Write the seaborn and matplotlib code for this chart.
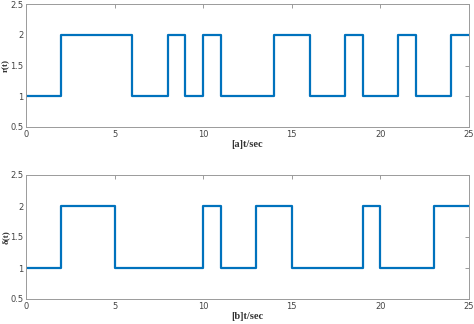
import numpy as np
import pandas as pd
import seaborn as sns
import matplotlib
matplotlib.use("Agg")
import matplotlib.pyplot as plt

# Switching times and values (piecewise-constant signals)
t_a = [0, 2, 6, 8, 9, 10, 11, 14, 16, 18, 19, 21, 22, 24, 25]
r_a = [1, 2, 1, 2, 1, 2, 1, 2, 1, 2, 1, 2, 1, 2, 2]
t_b = [0, 2, 5, 10, 11, 13, 15, 19, 20, 23, 25]
d_b = [1, 2, 1, 2, 1, 2, 1, 2, 1, 2, 2]
x_ticks = [0, 5, 10, 15, 20, 25]
y_ticks = [0.5, 1, 1.5, 2, 2.5]

sns.set_style("white")
plt.rcParams['font.family'] = ['DejaVu Sans']

fig = plt.figure(figsize=(4.74, 3.24), dpi=100)
ax1 = fig.add_axes([26/474, 1 - 127/324, (469-26)/474, (127-4)/324])
ax2 = fig.add_axes([26/474, 1 - 299/324, (469-26)/474, (299-175)/324])

blue = '#0072BD'
panels = [(ax1, t_a, r_a, 'r(t)', '[a]t/sec'), (ax2, t_b, d_b, 'δ(t)', '[b]t/sec')]
for ax, t, v, yl, xl in panels:
    df = pd.DataFrame({'t': t, 'v': v})
    sns.lineplot(data=df, x='t', y='v', ax=ax, color=blue, linewidth=1.6,
                 drawstyle='steps-post', estimator=None, sort=False)
    ax.set_xlim(0, 25)
    ax.set_ylim(0.5, 2.5)
    ax.set_xticks(x_ticks)
    ax.set_yticks(y_ticks)
    ax.set_yticklabels(['0.5', '1', '1.5', '2', '2.5'])
    ax.tick_params(direction='in', length=3, width=0.6, labelsize=6,
                   color='#8c8c8c', labelcolor='#444444', top=True, right=True, pad=2)
    for s in ax.spines.values():
        s.set_color('#9a9a9a')
        s.set_linewidth(0.7)
    ax.set_xlabel(xl, fontsize=7.5, family='Liberation Serif', fontweight='bold',
                  color='#333333', labelpad=1)
    ax.set_ylabel(yl, fontsize=6.5, family='Liberation Serif', fontweight='bold',
                  color='#333333')
    ax.yaxis.set_label_coords(-16.5/443, 0.5)

fig.savefig('out.png', dpi=100)
